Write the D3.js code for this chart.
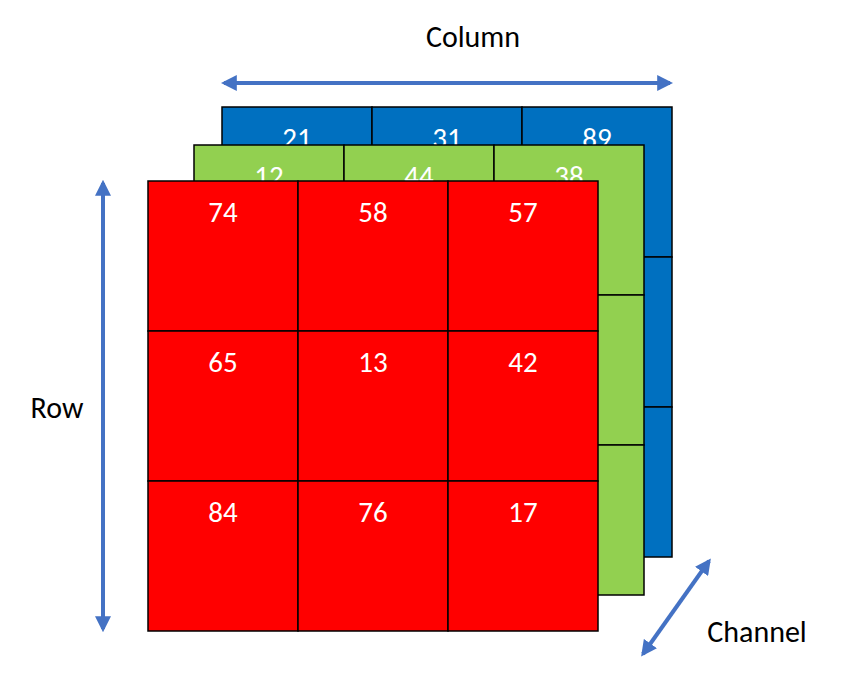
<!DOCTYPE html>
<html><head><meta charset="utf-8">
<script src="https://cdn.jsdelivr.net/npm/d3@7"></script>
<style>body{margin:0;background:#fff}</style></head>
<body><svg id="c" width="843" height="676"></svg>
<script>
const rows=[0,1,2], cols=[0,1,2];
const blueValues=[[21,31,89],[0,0,0],[0,0,0]];
const greenValues=[[12,44,38],[0,0,0],[0,0,0]];
const redValues=[[74,58,57],[65,13,42],[84,76,17]];
const layers=[
 {name:"blue",vals:blueValues,color:"#0070C0",x:222,y:107,show:[0]},
 {name:"green",vals:greenValues,color:"#92D050",x:194,y:145,show:[0]},
 {name:"red",vals:redValues,color:"#FF0000",x:148,y:181,show:[0,1,2]}
];
const svg=d3.select("#c");
const F="'Carlito','Open Sans','Liberation Sans',sans-serif";
const xs=d3.scaleBand().domain(cols).range([0,450]);
const ys=d3.scaleBand().domain(rows).range([0,450]);
layers.forEach(L=>{
 const g=svg.append("g").attr("transform",`translate(${L.x},${L.y})`);
 rows.forEach(r=>cols.forEach(c=>{
  g.append("rect").attr("x",xs(c)).attr("y",ys(r)).attr("width",xs.bandwidth()).attr("height",ys.bandwidth())
   .attr("fill",L.color).attr("stroke","#000").attr("stroke-width",1.5);
  if(L.show.includes(r)) g.append("text").attr("x",xs(c)+75).attr("y",ys(r)+41).attr("text-anchor","middle")
   .attr("fill","#fff").attr("font-size",29).attr("font-family",F).text(L.vals[r][c]);
 }));
});
const defs=svg.append("defs");
defs.append("marker").attr("id","ah").attr("viewBox","0 0 10 10").attr("refX",8).attr("refY",5)
 .attr("markerWidth",4).attr("markerHeight",4).attr("orient","auto-start-reverse")
 .append("path").attr("d","M0,0L10,5L0,10z").attr("fill","#4472C4");
function arrow(x1,y1,x2,y2){svg.append("line").attr("x1",x1).attr("y1",y1).attr("x2",x2).attr("y2",y2)
 .attr("stroke","#4472C4").attr("stroke-width",4).attr("marker-start","url(#ah)").attr("marker-end","url(#ah)");}
arrow(224,83,670,83);
arrow(103,183,103,629);
arrow(643,654,709,561);
const lab=(t,x,y)=>svg.append("text").attr("x",x).attr("y",y).attr("text-anchor","middle").attr("font-size",30)
 .attr("font-family",F).attr("fill","#000").text(t);
lab("Column",473,47);lab("Row",57,418);lab("Channel",757,642);
</script></body></html>
